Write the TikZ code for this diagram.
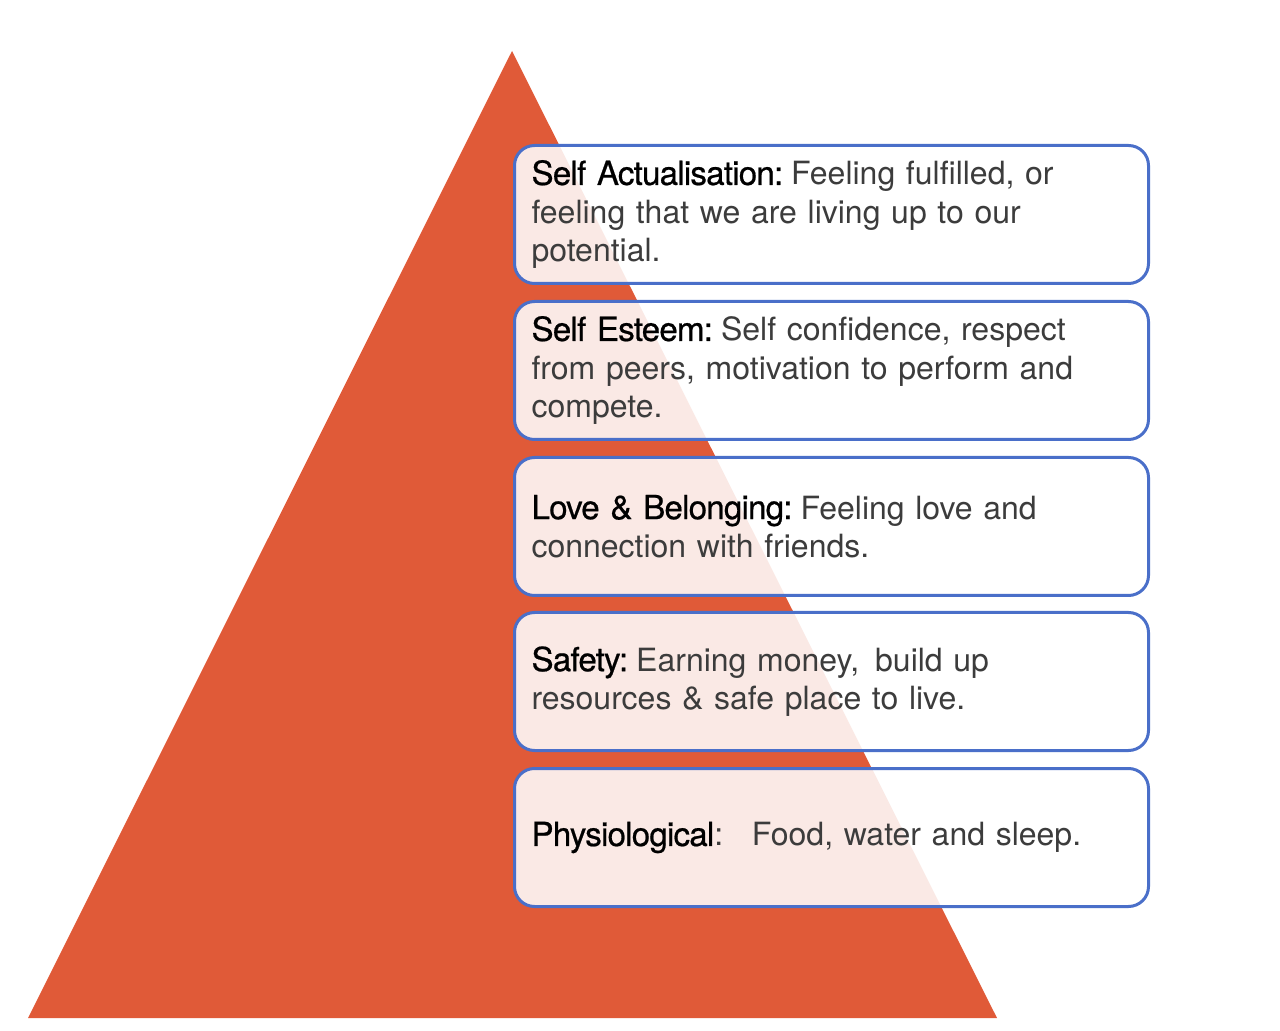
\documentclass[tikz,border=0pt]{standalone}
\usepackage{fontspec}
\setmainfont{TeX Gyre Heros}
\newfontfamily\labfont[FakeBold=0.6,LetterSpace=-2.5,WordSpace=0.6]{TeX Gyre Heros}
\definecolor{pyr}{HTML}{E05A38}
\definecolor{boxblue}{HTML}{4A6FC9}
\definecolor{desc}{HTML}{3C3C3C}
\tikzset{
  level/.style={draw=boxblue, line width=1.5pt, rounded corners=10pt,
    fill=white, fill opacity=0.87, text opacity=1,
    anchor=north west, minimum width=317pt, minimum height=69pt,
    text width=300pt, inner xsep=7.5pt, align=left,
    font=\fontsize{16pt}{19.25pt}\selectfont}
}
\newcommand{\lbl}[1]{{\labfont\fontsize{16.6pt}{19.25pt}\selectfont\textcolor{black}{#1}}}
\begin{document}
\begin{tikzpicture}[x=0.5pt,y=-0.5pt]
\useasboundingbox (0,0) rectangle (1280,1031);
\fill[pyr] (512,51) coordinate (apex) -- (997,1018) coordinate (br) -- (28,1018) coordinate (bl) -- cycle;
\node[level] (b1) at (513,144) {\lbl{Self Actualisation:}\hspace{0.25em}\textcolor{desc}{Feeling fulfilled, or\\ feeling that we are living up to our\\ potential.}};
\node[level] (b2) at (513,300) {\lbl{Self Esteem:}\hspace{0.25em}\textcolor{desc}{Self confidence, respect\\ from peers, motivation to perform and\\ compete.}};
\node[level] (b3) at (513,456) {\lbl{Love \& Belonging:}\hspace{0.25em}\textcolor{desc}{Feeling love and\\ connection with friends.}};
\node[level] (b4) at (513,611) {\lbl{Safety:}\hspace{0.25em}\textcolor{desc}{Earning money,\, build up\\ resources \& safe place to live.}};
\node[level] (b5) at (513,767) {\lbl{Physiological}\textcolor{desc}{:}\hspace{0.9em}\textcolor{desc}{Food, water and sleep.}};
\end{tikzpicture}
\end{document}
